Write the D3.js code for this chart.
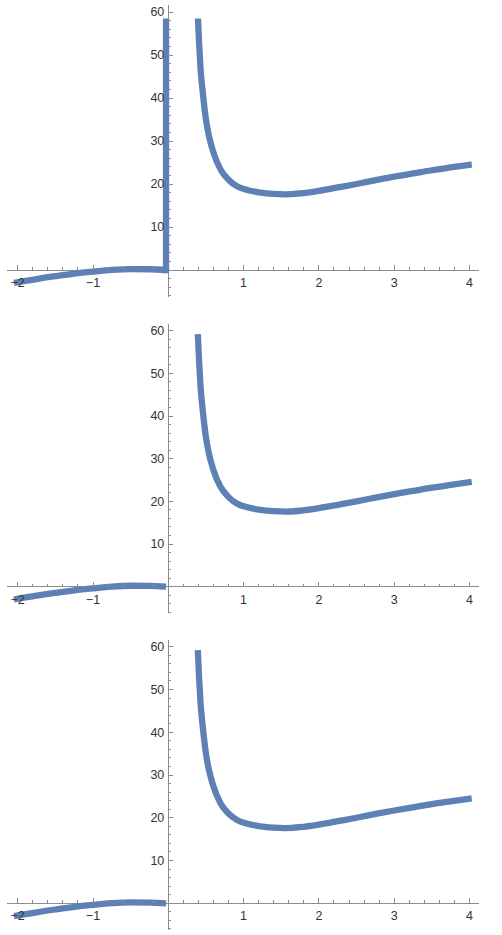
<!DOCTYPE html>
<html>
<head>
<meta charset="utf-8">
<script src="https://cdn.jsdelivr.net/npm/d3@7"></script>
<style>
  html, body { margin: 0; padding: 0; background: #fff; }
  svg { display: block; }
</style>
</head>
<body>
<svg id="chart" width="502" height="935"></svg>
<script>
// ---- data ----
const xLeft  = [-2.05, -1.75, -1.5, -1.25, -1.0, -0.75, -0.5, -0.25, -0.03];
const yLeft  = [-3.0, -2.1, -1.45, -0.85, -0.38, 0.02, 0.22, 0.18, 0];
const xRight = [0.392, 0.41, 0.428, 0.45, 0.471, 0.5, 0.538, 0.6, 0.693, 0.8, 0.91, 1.05, 1.22, 1.4, 1.55, 1.75, 2.0, 2.25, 2.5, 2.77, 3.0, 3.25, 3.5, 3.75, 4.03];
const yRight = [59.2, 52.5, 46.9, 42.6, 39.1, 35.0, 31.3, 27.3, 23.4, 21.0, 19.5, 18.6, 18.0, 17.7, 17.6, 17.8, 18.4, 19.2, 20.0, 20.95, 21.7, 22.45, 23.2, 23.85, 24.55];
const jumpX = -0.03;         // panel 1 joins the branches with a vertical segment here
const jumpTop = 58.5;        // ... clipped at this value
const xTicks = [-2, -1, 1, 2, 3, 4];
const yTicks = [10, 20, 30, 40, 50, 60];
const panels = [
  { zero: 270.0, sixty: 12.0, joined: true },
  { zero: 586.7, sixty: 330.7, joined: false },
  { zero: 903.3, sixty: 646.7, joined: false }
];

// ---- layout ----
const svg = d3.select("#chart");
const x = d3.scaleLinear().domain([0, 1]).range([168.3, 243.6]);
const xMin = -2.14, xMax = 4.12, yMin = -6.25, yMax = 61.6;
const axisColor = "#8c8c8c", labelColor = "#333", lineColor = "#5E81B5";
const font = "'Liberation Sans', Arial, sans-serif";
const lw = 6.3;

const leftPts = xLeft.map((v, i) => [v, yLeft[i]]);
const rightPts = xRight.map((v, i) => [v, yRight[i]]);

panels.forEach((p, k) => {
  const y = d3.scaleLinear().domain([0, 60]).range([p.zero, p.sixty]);
  const g = svg.append("g");

  // axis lines (beneath the curve)
  g.append("line").attr("x1", x(xMin)).attr("x2", x(xMax)).attr("y1", y(0)).attr("y2", y(0))
    .attr("stroke", axisColor).attr("stroke-width", 1).attr("shape-rendering", "crispEdges");
  g.append("line").attr("x1", x(0)).attr("x2", x(0)).attr("y1", y(yMin)).attr("y2", y(yMax))
    .attr("stroke", axisColor).attr("stroke-width", 1).attr("shape-rendering", "crispEdges");

  // curve
  const line = d3.line().x(d => x(d[0])).y(d => y(d[1])).curve(d3.curveMonotoneX);
  const clipId = "clip" + k;
  const top = p.joined ? jumpTop : yMax;
  svg.append("clipPath").attr("id", clipId).append("rect")
    .attr("x", 0).attr("width", 502).attr("y", y(top)).attr("height", y(yMin - 5) - y(top));
  const cg = g.append("g").attr("clip-path", `url(#${clipId})`);
  cg.append("path").attr("d", line(leftPts)).attr("fill", "none")
    .attr("stroke", lineColor).attr("stroke-width", lw);
  if (p.joined) {
    const straight = d3.line().x(d => x(d[0])).y(d => y(d[1]));
    cg.append("path").attr("d", straight([[jumpX, 0], [jumpX, jumpTop + 3]])).attr("fill", "none")
      .attr("stroke", lineColor).attr("stroke-width", lw).attr("stroke-linecap", "square");
  }
  cg.append("path").attr("d", line(rightPts)).attr("fill", "none")
    .attr("stroke", lineColor).attr("stroke-width", lw);

  // ticks (drawn over the curve)
  const xMinor = d3.range(-2.0, 4.01, 0.2).map(v => Math.round(v * 10) / 10)
    .filter(v => Math.abs(v - Math.round(v)) > 1e-6);
  g.selectAll(".xmaj").data(xTicks).join("line")
    .attr("x1", d => x(d)).attr("x2", d => x(d)).attr("y1", y(0)).attr("y2", y(0) - 5)
    .attr("stroke", axisColor).attr("shape-rendering", "crispEdges");
  g.selectAll(".xmin").data(xMinor).join("line")
    .attr("x1", d => x(d)).attr("x2", d => x(d)).attr("y1", y(0)).attr("y2", y(0) - 3)
    .attr("stroke", axisColor).attr("shape-rendering", "crispEdges");
  const yMinor = d3.range(-6, 61, 2).filter(v => v % 10 !== 0);
  g.selectAll(".ymaj").data(yTicks).join("line")
    .attr("x1", x(0)).attr("x2", x(0) + 5).attr("y1", d => y(d)).attr("y2", d => y(d))
    .attr("stroke", axisColor).attr("shape-rendering", "crispEdges");
  g.selectAll(".ymin").data(yMinor).join("line")
    .attr("x1", x(0)).attr("x2", x(0) + 3).attr("y1", d => y(d)).attr("y2", d => y(d))
    .attr("stroke", axisColor).attr("shape-rendering", "crispEdges");

  // labels
  g.selectAll(".xl").data(xTicks).join("text")
    .attr("x", d => x(d)).attr("y", y(0) + 17)
    .attr("text-anchor", "middle").attr("font-family", font).attr("font-size", 12.5)
    .attr("fill", labelColor).text(d => d < 0 ? "\u2212" + Math.abs(d) : d);
  g.selectAll(".yl").data(yTicks).join("text")
    .attr("x", x(0) - 4).attr("y", d => y(d)).attr("dy", "0.35em")
    .attr("text-anchor", "end").attr("font-family", font).attr("font-size", 12.5)
    .attr("fill", labelColor).text(d => d);
});
</script>
</body>
</html>
